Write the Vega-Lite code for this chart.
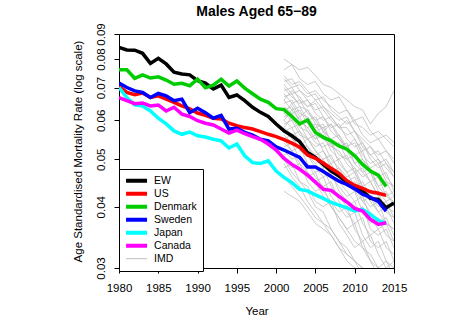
{
  "$schema": "https://vega.github.io/schema/vega-lite/v6.json",
  "width": 275,
  "height": 234,
  "autosize": {"type": "none"},
  "padding": {"left": 119, "top": 34, "right": 80, "bottom": 55},
  "background": "white",
  "config": {
    "font": "Liberation Sans",
    "view": {"stroke": "black", "strokeWidth": 1},
    "axis": {"grid": false, "domain": false, "tickColor": "black", "tickSize": 5, "labelColor": "black", "titleColor": "black", "labelFontSize": 11.5, "titleFontSize": 11.5, "titleFontWeight": "normal", "labelFlush": false, "labelOverlap": false}
  },
  "title": {"text": "Males Aged 65−89", "fontSize": 14, "fontWeight": "bold", "anchor": "middle", "baseline": "alphabetic", "offset": -7, "color": "black"},
  "datasets": {
    "rates": [
      {"series":"EW","line":"EW","year":1980,"rate":0.0845},{"series":"EW","line":"EW","year":1981,"rate":0.0835},{"series":"EW","line":"EW","year":1982,"rate":0.0834},{"series":"EW","line":"EW","year":1983,"rate":0.0822},{"series":"EW","line":"EW","year":1984,"rate":0.0784},{"series":"EW","line":"EW","year":1985,"rate":0.0803},{"series":"EW","line":"EW","year":1986,"rate":0.0782},{"series":"EW","line":"EW","year":1987,"rate":0.0752},{"series":"EW","line":"EW","year":1988,"rate":0.0746},{"series":"EW","line":"EW","year":1989,"rate":0.0743},{"series":"EW","line":"EW","year":1990,"rate":0.0723},{"series":"EW","line":"EW","year":1991,"rate":0.0715},{"series":"EW","line":"EW","year":1992,"rate":0.0695},{"series":"EW","line":"EW","year":1993,"rate":0.0708},{"series":"EW","line":"EW","year":1994,"rate":0.0668},{"series":"EW","line":"EW","year":1995,"rate":0.0676},{"series":"EW","line":"EW","year":1996,"rate":0.0658},{"series":"EW","line":"EW","year":1997,"rate":0.0638},{"series":"EW","line":"EW","year":1998,"rate":0.0623},{"series":"EW","line":"EW","year":1999,"rate":0.0611},{"series":"EW","line":"EW","year":2000,"rate":0.0590},{"series":"EW","line":"EW","year":2001,"rate":0.0571},{"series":"EW","line":"EW","year":2002,"rate":0.0558},{"series":"EW","line":"EW","year":2003,"rate":0.0543},{"series":"EW","line":"EW","year":2004,"rate":0.0516},{"series":"EW","line":"EW","year":2005,"rate":0.0504},{"series":"EW","line":"EW","year":2006,"rate":0.0488},{"series":"EW","line":"EW","year":2007,"rate":0.0473},{"series":"EW","line":"EW","year":2008,"rate":0.0462},{"series":"EW","line":"EW","year":2009,"rate":0.0449},{"series":"EW","line":"EW","year":2010,"rate":0.0440},{"series":"EW","line":"EW","year":2011,"rate":0.0431},{"series":"EW","line":"EW","year":2012,"rate":0.0416},{"series":"EW","line":"EW","year":2013,"rate":0.0414},{"series":"EW","line":"EW","year":2014,"rate":0.0398},{"series":"EW","line":"EW","year":2015,"rate":0.0407},
      {"series":"US","line":"US","year":1980,"rate":0.0704},{"series":"US","line":"US","year":1981,"rate":0.0684},{"series":"US","line":"US","year":1982,"rate":0.0677},{"series":"US","line":"US","year":1983,"rate":0.0682},{"series":"US","line":"US","year":1984,"rate":0.0668},{"series":"US","line":"US","year":1985,"rate":0.0673},{"series":"US","line":"US","year":1986,"rate":0.0663},{"series":"US","line":"US","year":1987,"rate":0.0653},{"series":"US","line":"US","year":1988,"rate":0.0642},{"series":"US","line":"US","year":1989,"rate":0.0633},{"series":"US","line":"US","year":1990,"rate":0.0621},{"series":"US","line":"US","year":1991,"rate":0.0614},{"series":"US","line":"US","year":1992,"rate":0.0606},{"series":"US","line":"US","year":1993,"rate":0.0604},{"series":"US","line":"US","year":1994,"rate":0.0592},{"series":"US","line":"US","year":1995,"rate":0.0585},{"series":"US","line":"US","year":1996,"rate":0.0580},{"series":"US","line":"US","year":1997,"rate":0.0576},{"series":"US","line":"US","year":1998,"rate":0.0569},{"series":"US","line":"US","year":1999,"rate":0.0562},{"series":"US","line":"US","year":2000,"rate":0.0556},{"series":"US","line":"US","year":2001,"rate":0.0548},{"series":"US","line":"US","year":2002,"rate":0.0539},{"series":"US","line":"US","year":2003,"rate":0.0529},{"series":"US","line":"US","year":2004,"rate":0.0510},{"series":"US","line":"US","year":2005,"rate":0.0502},{"series":"US","line":"US","year":2006,"rate":0.0491},{"series":"US","line":"US","year":2007,"rate":0.0479},{"series":"US","line":"US","year":2008,"rate":0.0468},{"series":"US","line":"US","year":2009,"rate":0.0452},{"series":"US","line":"US","year":2010,"rate":0.0442},{"series":"US","line":"US","year":2011,"rate":0.0436},{"series":"US","line":"US","year":2012,"rate":0.0429},{"series":"US","line":"US","year":2013,"rate":0.0426},{"series":"US","line":"US","year":2014,"rate":0.0422},
      {"series":"Denmark","line":"Denmark","year":1980,"rate":0.0761},{"series":"Denmark","line":"Denmark","year":1981,"rate":0.0761},{"series":"Denmark","line":"Denmark","year":1982,"rate":0.0731},{"series":"Denmark","line":"Denmark","year":1983,"rate":0.0743},{"series":"Denmark","line":"Denmark","year":1984,"rate":0.0732},{"series":"Denmark","line":"Denmark","year":1985,"rate":0.0736},{"series":"Denmark","line":"Denmark","year":1986,"rate":0.0725},{"series":"Denmark","line":"Denmark","year":1987,"rate":0.0711},{"series":"Denmark","line":"Denmark","year":1988,"rate":0.0714},{"series":"Denmark","line":"Denmark","year":1989,"rate":0.0706},{"series":"Denmark","line":"Denmark","year":1990,"rate":0.0728},{"series":"Denmark","line":"Denmark","year":1991,"rate":0.0699},{"series":"Denmark","line":"Denmark","year":1992,"rate":0.0708},{"series":"Denmark","line":"Denmark","year":1993,"rate":0.0728},{"series":"Denmark","line":"Denmark","year":1994,"rate":0.0705},{"series":"Denmark","line":"Denmark","year":1995,"rate":0.0722},{"series":"Denmark","line":"Denmark","year":1996,"rate":0.0698},{"series":"Denmark","line":"Denmark","year":1997,"rate":0.0680},{"series":"Denmark","line":"Denmark","year":1998,"rate":0.0663},{"series":"Denmark","line":"Denmark","year":1999,"rate":0.0653},{"series":"Denmark","line":"Denmark","year":2000,"rate":0.0634},{"series":"Denmark","line":"Denmark","year":2001,"rate":0.0631},{"series":"Denmark","line":"Denmark","year":2002,"rate":0.0611},{"series":"Denmark","line":"Denmark","year":2003,"rate":0.0590},{"series":"Denmark","line":"Denmark","year":2004,"rate":0.0601},{"series":"Denmark","line":"Denmark","year":2005,"rate":0.0567},{"series":"Denmark","line":"Denmark","year":2006,"rate":0.0554},{"series":"Denmark","line":"Denmark","year":2007,"rate":0.0545},{"series":"Denmark","line":"Denmark","year":2008,"rate":0.0532},{"series":"Denmark","line":"Denmark","year":2009,"rate":0.0524},{"series":"Denmark","line":"Denmark","year":2010,"rate":0.0508},{"series":"Denmark","line":"Denmark","year":2011,"rate":0.0488},{"series":"Denmark","line":"Denmark","year":2012,"rate":0.0473},{"series":"Denmark","line":"Denmark","year":2013,"rate":0.0464},{"series":"Denmark","line":"Denmark","year":2014,"rate":0.0440},
      {"series":"Sweden","line":"Sweden","year":1980,"rate":0.0715},{"series":"Sweden","line":"Sweden","year":1981,"rate":0.0700},{"series":"Sweden","line":"Sweden","year":1982,"rate":0.0689},{"series":"Sweden","line":"Sweden","year":1983,"rate":0.0684},{"series":"Sweden","line":"Sweden","year":1984,"rate":0.0668},{"series":"Sweden","line":"Sweden","year":1985,"rate":0.0681},{"series":"Sweden","line":"Sweden","year":1986,"rate":0.0673},{"series":"Sweden","line":"Sweden","year":1987,"rate":0.0658},{"series":"Sweden","line":"Sweden","year":1988,"rate":0.0663},{"series":"Sweden","line":"Sweden","year":1989,"rate":0.0622},{"series":"Sweden","line":"Sweden","year":1990,"rate":0.0635},{"series":"Sweden","line":"Sweden","year":1991,"rate":0.0622},{"series":"Sweden","line":"Sweden","year":1992,"rate":0.0606},{"series":"Sweden","line":"Sweden","year":1993,"rate":0.0614},{"series":"Sweden","line":"Sweden","year":1994,"rate":0.0576},{"series":"Sweden","line":"Sweden","year":1995,"rate":0.0578},{"series":"Sweden","line":"Sweden","year":1996,"rate":0.0567},{"series":"Sweden","line":"Sweden","year":1997,"rate":0.0560},{"series":"Sweden","line":"Sweden","year":1998,"rate":0.0549},{"series":"Sweden","line":"Sweden","year":1999,"rate":0.0545},{"series":"Sweden","line":"Sweden","year":2000,"rate":0.0530},{"series":"Sweden","line":"Sweden","year":2001,"rate":0.0522},{"series":"Sweden","line":"Sweden","year":2002,"rate":0.0513},{"series":"Sweden","line":"Sweden","year":2003,"rate":0.0504},{"series":"Sweden","line":"Sweden","year":2004,"rate":0.0482},{"series":"Sweden","line":"Sweden","year":2005,"rate":0.0482},{"series":"Sweden","line":"Sweden","year":2006,"rate":0.0472},{"series":"Sweden","line":"Sweden","year":2007,"rate":0.0461},{"series":"Sweden","line":"Sweden","year":2008,"rate":0.0451},{"series":"Sweden","line":"Sweden","year":2009,"rate":0.0444},{"series":"Sweden","line":"Sweden","year":2010,"rate":0.0435},{"series":"Sweden","line":"Sweden","year":2011,"rate":0.0424},{"series":"Sweden","line":"Sweden","year":2012,"rate":0.0418},{"series":"Sweden","line":"Sweden","year":2013,"rate":0.0410},{"series":"Sweden","line":"Sweden","year":2014,"rate":0.0392},
      {"series":"Japan","line":"Japan","year":1980,"rate":0.0700},{"series":"Japan","line":"Japan","year":1981,"rate":0.0668},{"series":"Japan","line":"Japan","year":1982,"rate":0.0645},{"series":"Japan","line":"Japan","year":1983,"rate":0.0642},{"series":"Japan","line":"Japan","year":1984,"rate":0.0627},{"series":"Japan","line":"Japan","year":1985,"rate":0.0606},{"series":"Japan","line":"Japan","year":1986,"rate":0.0590},{"series":"Japan","line":"Japan","year":1987,"rate":0.0571},{"series":"Japan","line":"Japan","year":1988,"rate":0.0562},{"series":"Japan","line":"Japan","year":1989,"rate":0.0568},{"series":"Japan","line":"Japan","year":1990,"rate":0.0558},{"series":"Japan","line":"Japan","year":1991,"rate":0.0555},{"series":"Japan","line":"Japan","year":1992,"rate":0.0549},{"series":"Japan","line":"Japan","year":1993,"rate":0.0545},{"series":"Japan","line":"Japan","year":1994,"rate":0.0527},{"series":"Japan","line":"Japan","year":1995,"rate":0.0537},{"series":"Japan","line":"Japan","year":1996,"rate":0.0508},{"series":"Japan","line":"Japan","year":1997,"rate":0.0492},{"series":"Japan","line":"Japan","year":1998,"rate":0.0490},{"series":"Japan","line":"Japan","year":1999,"rate":0.0496},{"series":"Japan","line":"Japan","year":2000,"rate":0.0473},{"series":"Japan","line":"Japan","year":2001,"rate":0.0459},{"series":"Japan","line":"Japan","year":2002,"rate":0.0448},{"series":"Japan","line":"Japan","year":2003,"rate":0.0434},{"series":"Japan","line":"Japan","year":2004,"rate":0.0431},{"series":"Japan","line":"Japan","year":2005,"rate":0.0423},{"series":"Japan","line":"Japan","year":2006,"rate":0.0416},{"series":"Japan","line":"Japan","year":2007,"rate":0.0408},{"series":"Japan","line":"Japan","year":2008,"rate":0.0403},{"series":"Japan","line":"Japan","year":2009,"rate":0.0398},{"series":"Japan","line":"Japan","year":2010,"rate":0.0392},{"series":"Japan","line":"Japan","year":2011,"rate":0.0395},{"series":"Japan","line":"Japan","year":2012,"rate":0.0386},{"series":"Japan","line":"Japan","year":2013,"rate":0.0375},{"series":"Japan","line":"Japan","year":2014,"rate":0.0370},
      {"series":"Canada","line":"Canada","year":1980,"rate":0.0668},{"series":"Canada","line":"Canada","year":1981,"rate":0.0658},{"series":"Canada","line":"Canada","year":1982,"rate":0.0649},{"series":"Canada","line":"Canada","year":1983,"rate":0.0651},{"series":"Canada","line":"Canada","year":1984,"rate":0.0642},{"series":"Canada","line":"Canada","year":1985,"rate":0.0645},{"series":"Canada","line":"Canada","year":1986,"rate":0.0627},{"series":"Canada","line":"Canada","year":1987,"rate":0.0638},{"series":"Canada","line":"Canada","year":1988,"rate":0.0618},{"series":"Canada","line":"Canada","year":1989,"rate":0.0611},{"series":"Canada","line":"Canada","year":1990,"rate":0.0599},{"series":"Canada","line":"Canada","year":1991,"rate":0.0592},{"series":"Canada","line":"Canada","year":1992,"rate":0.0587},{"series":"Canada","line":"Canada","year":1993,"rate":0.0576},{"series":"Canada","line":"Canada","year":1994,"rate":0.0565},{"series":"Canada","line":"Canada","year":1995,"rate":0.0573},{"series":"Canada","line":"Canada","year":1996,"rate":0.0564},{"series":"Canada","line":"Canada","year":1997,"rate":0.0556},{"series":"Canada","line":"Canada","year":1998,"rate":0.0549},{"series":"Canada","line":"Canada","year":1999,"rate":0.0537},{"series":"Canada","line":"Canada","year":2000,"rate":0.0522},{"series":"Canada","line":"Canada","year":2001,"rate":0.0502},{"series":"Canada","line":"Canada","year":2002,"rate":0.0488},{"series":"Canada","line":"Canada","year":2003,"rate":0.0477},{"series":"Canada","line":"Canada","year":2004,"rate":0.0464},{"series":"Canada","line":"Canada","year":2005,"rate":0.0449},{"series":"Canada","line":"Canada","year":2006,"rate":0.0434},{"series":"Canada","line":"Canada","year":2007,"rate":0.0432},{"series":"Canada","line":"Canada","year":2008,"rate":0.0420},{"series":"Canada","line":"Canada","year":2009,"rate":0.0409},{"series":"Canada","line":"Canada","year":2010,"rate":0.0397},{"series":"Canada","line":"Canada","year":2011,"rate":0.0392},{"series":"Canada","line":"Canada","year":2012,"rate":0.0377},{"series":"Canada","line":"Canada","year":2013,"rate":0.0368},{"series":"Canada","line":"Canada","year":2014,"rate":0.0371}
    ],
    "imd": [
      {"line":"i1","year":2001,"rate":0.080},{"line":"i1","year":2002,"rate":0.078},{"line":"i1","year":2003,"rate":0.076},{"line":"i1","year":2004,"rate":0.077},{"line":"i1","year":2005,"rate":0.074},{"line":"i1","year":2006,"rate":0.071},{"line":"i1","year":2007,"rate":0.070},{"line":"i1","year":2008,"rate":0.068},{"line":"i1","year":2009,"rate":0.066},{"line":"i1","year":2010,"rate":0.064},{"line":"i1","year":2011,"rate":0.063},{"line":"i1","year":2012,"rate":0.059},{"line":"i1","year":2013,"rate":0.062},{"line":"i1","year":2014,"rate":0.064},{"line":"i1","year":2015,"rate":0.069},
      {"line":"i2","year":2001,"rate":0.076},{"line":"i2","year":2002,"rate":0.078},{"line":"i2","year":2003,"rate":0.073},{"line":"i2","year":2004,"rate":0.071},{"line":"i2","year":2005,"rate":0.072},{"line":"i2","year":2006,"rate":0.068},{"line":"i2","year":2007,"rate":0.066},{"line":"i2","year":2008,"rate":0.067},{"line":"i2","year":2009,"rate":0.063},{"line":"i2","year":2010,"rate":0.060},{"line":"i2","year":2011,"rate":0.061},{"line":"i2","year":2012,"rate":0.057},{"line":"i2","year":2013,"rate":0.055},{"line":"i2","year":2014,"rate":0.056},{"line":"i2","year":2015,"rate":0.054},
      {"line":"i3","year":2001,"rate":0.074},{"line":"i3","year":2002,"rate":0.071},{"line":"i3","year":2003,"rate":0.072},{"line":"i3","year":2004,"rate":0.069},{"line":"i3","year":2005,"rate":0.066},{"line":"i3","year":2006,"rate":0.067},{"line":"i3","year":2007,"rate":0.063},{"line":"i3","year":2008,"rate":0.061},{"line":"i3","year":2009,"rate":0.059},{"line":"i3","year":2010,"rate":0.060},{"line":"i3","year":2011,"rate":0.056},{"line":"i3","year":2012,"rate":0.054},{"line":"i3","year":2013,"rate":0.055},{"line":"i3","year":2014,"rate":0.052},{"line":"i3","year":2015,"rate":0.050},
      {"line":"i4","year":2001,"rate":0.072},{"line":"i4","year":2002,"rate":0.073},{"line":"i4","year":2003,"rate":0.069},{"line":"i4","year":2004,"rate":0.067},{"line":"i4","year":2005,"rate":0.068},{"line":"i4","year":2006,"rate":0.064},{"line":"i4","year":2007,"rate":0.062},{"line":"i4","year":2008,"rate":0.060},{"line":"i4","year":2009,"rate":0.061},{"line":"i4","year":2010,"rate":0.057},{"line":"i4","year":2011,"rate":0.055},{"line":"i4","year":2012,"rate":0.053},{"line":"i4","year":2013,"rate":0.051},{"line":"i4","year":2014,"rate":0.052},{"line":"i4","year":2015,"rate":0.049},
      {"line":"i5","year":2001,"rate":0.071},{"line":"i5","year":2002,"rate":0.068},{"line":"i5","year":2003,"rate":0.069},{"line":"i5","year":2004,"rate":0.066},{"line":"i5","year":2005,"rate":0.063},{"line":"i5","year":2006,"rate":0.064},{"line":"i5","year":2007,"rate":0.061},{"line":"i5","year":2008,"rate":0.058},{"line":"i5","year":2009,"rate":0.056},{"line":"i5","year":2010,"rate":0.057},{"line":"i5","year":2011,"rate":0.054},{"line":"i5","year":2012,"rate":0.051},{"line":"i5","year":2013,"rate":0.052},{"line":"i5","year":2014,"rate":0.049},{"line":"i5","year":2015,"rate":0.047},
      {"line":"i6","year":2001,"rate":0.069},{"line":"i6","year":2002,"rate":0.070},{"line":"i6","year":2003,"rate":0.066},{"line":"i6","year":2004,"rate":0.064},{"line":"i6","year":2005,"rate":0.065},{"line":"i6","year":2006,"rate":0.061},{"line":"i6","year":2007,"rate":0.058},{"line":"i6","year":2008,"rate":0.059},{"line":"i6","year":2009,"rate":0.055},{"line":"i6","year":2010,"rate":0.053},{"line":"i6","year":2011,"rate":0.054},{"line":"i6","year":2012,"rate":0.050},{"line":"i6","year":2013,"rate":0.048},{"line":"i6","year":2014,"rate":0.049},{"line":"i6","year":2015,"rate":0.046},
      {"line":"i7","year":2001,"rate":0.068},{"line":"i7","year":2002,"rate":0.065},{"line":"i7","year":2003,"rate":0.066},{"line":"i7","year":2004,"rate":0.062},{"line":"i7","year":2005,"rate":0.060},{"line":"i7","year":2006,"rate":0.061},{"line":"i7","year":2007,"rate":0.057},{"line":"i7","year":2008,"rate":0.055},{"line":"i7","year":2009,"rate":0.053},{"line":"i7","year":2010,"rate":0.054},{"line":"i7","year":2011,"rate":0.050},{"line":"i7","year":2012,"rate":0.048},{"line":"i7","year":2013,"rate":0.049},{"line":"i7","year":2014,"rate":0.045},{"line":"i7","year":2015,"rate":0.044},
      {"line":"i8","year":2001,"rate":0.067},{"line":"i8","year":2002,"rate":0.068},{"line":"i8","year":2003,"rate":0.064},{"line":"i8","year":2004,"rate":0.063},{"line":"i8","year":2005,"rate":0.059},{"line":"i8","year":2006,"rate":0.058},{"line":"i8","year":2007,"rate":0.059},{"line":"i8","year":2008,"rate":0.055},{"line":"i8","year":2009,"rate":0.052},{"line":"i8","year":2010,"rate":0.051},{"line":"i8","year":2011,"rate":0.052},{"line":"i8","year":2012,"rate":0.047},{"line":"i8","year":2013,"rate":0.046},{"line":"i8","year":2014,"rate":0.047},{"line":"i8","year":2015,"rate":0.043},
      {"line":"i9","year":2001,"rate":0.066},{"line":"i9","year":2002,"rate":0.063},{"line":"i9","year":2003,"rate":0.064},{"line":"i9","year":2004,"rate":0.060},{"line":"i9","year":2005,"rate":0.061},{"line":"i9","year":2006,"rate":0.057},{"line":"i9","year":2007,"rate":0.055},{"line":"i9","year":2008,"rate":0.056},{"line":"i9","year":2009,"rate":0.052},{"line":"i9","year":2010,"rate":0.049},{"line":"i9","year":2011,"rate":0.050},{"line":"i9","year":2012,"rate":0.047},{"line":"i9","year":2013,"rate":0.044},{"line":"i9","year":2014,"rate":0.045},{"line":"i9","year":2015,"rate":0.042},
      {"line":"i10","year":2001,"rate":0.065},{"line":"i10","year":2002,"rate":0.066},{"line":"i10","year":2003,"rate":0.062},{"line":"i10","year":2004,"rate":0.061},{"line":"i10","year":2005,"rate":0.058},{"line":"i10","year":2006,"rate":0.059},{"line":"i10","year":2007,"rate":0.054},{"line":"i10","year":2008,"rate":0.053},{"line":"i10","year":2009,"rate":0.054},{"line":"i10","year":2010,"rate":0.049},{"line":"i10","year":2011,"rate":0.047},{"line":"i10","year":2012,"rate":0.048},{"line":"i10","year":2013,"rate":0.044},{"line":"i10","year":2014,"rate":0.042},{"line":"i10","year":2015,"rate":0.043},
      {"line":"i11","year":2001,"rate":0.064},{"line":"i11","year":2002,"rate":0.062},{"line":"i11","year":2003,"rate":0.063},{"line":"i11","year":2004,"rate":0.059},{"line":"i11","year":2005,"rate":0.057},{"line":"i11","year":2006,"rate":0.058},{"line":"i11","year":2007,"rate":0.054},{"line":"i11","year":2008,"rate":0.051},{"line":"i11","year":2009,"rate":0.050},{"line":"i11","year":2010,"rate":0.051},{"line":"i11","year":2011,"rate":0.047},{"line":"i11","year":2012,"rate":0.045},{"line":"i11","year":2013,"rate":0.046},{"line":"i11","year":2014,"rate":0.042},{"line":"i11","year":2015,"rate":0.041},
      {"line":"i12","year":2001,"rate":0.063},{"line":"i12","year":2002,"rate":0.064},{"line":"i12","year":2003,"rate":0.060},{"line":"i12","year":2004,"rate":0.058},{"line":"i12","year":2005,"rate":0.059},{"line":"i12","year":2006,"rate":0.055},{"line":"i12","year":2007,"rate":0.053},{"line":"i12","year":2008,"rate":0.054},{"line":"i12","year":2009,"rate":0.050},{"line":"i12","year":2010,"rate":0.048},{"line":"i12","year":2011,"rate":0.046},{"line":"i12","year":2012,"rate":0.047},{"line":"i12","year":2013,"rate":0.043},{"line":"i12","year":2014,"rate":0.041},{"line":"i12","year":2015,"rate":0.042},
      {"line":"i13","year":2001,"rate":0.062},{"line":"i13","year":2002,"rate":0.060},{"line":"i13","year":2003,"rate":0.061},{"line":"i13","year":2004,"rate":0.057},{"line":"i13","year":2005,"rate":0.055},{"line":"i13","year":2006,"rate":0.056},{"line":"i13","year":2007,"rate":0.052},{"line":"i13","year":2008,"rate":0.050},{"line":"i13","year":2009,"rate":0.051},{"line":"i13","year":2010,"rate":0.047},{"line":"i13","year":2011,"rate":0.044},{"line":"i13","year":2012,"rate":0.045},{"line":"i13","year":2013,"rate":0.042},{"line":"i13","year":2014,"rate":0.040},{"line":"i13","year":2015,"rate":0.039},
      {"line":"i14","year":2001,"rate":0.061},{"line":"i14","year":2002,"rate":0.062},{"line":"i14","year":2003,"rate":0.058},{"line":"i14","year":2004,"rate":0.057},{"line":"i14","year":2005,"rate":0.054},{"line":"i14","year":2006,"rate":0.053},{"line":"i14","year":2007,"rate":0.054},{"line":"i14","year":2008,"rate":0.049},{"line":"i14","year":2009,"rate":0.047},{"line":"i14","year":2010,"rate":0.048},{"line":"i14","year":2011,"rate":0.044},{"line":"i14","year":2012,"rate":0.042},{"line":"i14","year":2013,"rate":0.043},{"line":"i14","year":2014,"rate":0.039},{"line":"i14","year":2015,"rate":0.038},
      {"line":"i15","year":2001,"rate":0.060},{"line":"i15","year":2002,"rate":0.058},{"line":"i15","year":2003,"rate":0.059},{"line":"i15","year":2004,"rate":0.055},{"line":"i15","year":2005,"rate":0.053},{"line":"i15","year":2006,"rate":0.054},{"line":"i15","year":2007,"rate":0.050},{"line":"i15","year":2008,"rate":0.048},{"line":"i15","year":2009,"rate":0.046},{"line":"i15","year":2010,"rate":0.047},{"line":"i15","year":2011,"rate":0.043},{"line":"i15","year":2012,"rate":0.041},{"line":"i15","year":2013,"rate":0.039},{"line":"i15","year":2014,"rate":0.040},{"line":"i15","year":2015,"rate":0.037},
      {"line":"i16","year":2001,"rate":0.059},{"line":"i16","year":2002,"rate":0.060},{"line":"i16","year":2003,"rate":0.056},{"line":"i16","year":2004,"rate":0.055},{"line":"i16","year":2005,"rate":0.052},{"line":"i16","year":2006,"rate":0.050},{"line":"i16","year":2007,"rate":0.051},{"line":"i16","year":2008,"rate":0.047},{"line":"i16","year":2009,"rate":0.045},{"line":"i16","year":2010,"rate":0.046},{"line":"i16","year":2011,"rate":0.042},{"line":"i16","year":2012,"rate":0.040},{"line":"i16","year":2013,"rate":0.041},{"line":"i16","year":2014,"rate":0.037},{"line":"i16","year":2015,"rate":0.036},
      {"line":"i17","year":2001,"rate":0.058},{"line":"i17","year":2002,"rate":0.056},{"line":"i17","year":2003,"rate":0.057},{"line":"i17","year":2004,"rate":0.053},{"line":"i17","year":2005,"rate":0.051},{"line":"i17","year":2006,"rate":0.052},{"line":"i17","year":2007,"rate":0.048},{"line":"i17","year":2008,"rate":0.046},{"line":"i17","year":2009,"rate":0.044},{"line":"i17","year":2010,"rate":0.045},{"line":"i17","year":2011,"rate":0.041},{"line":"i17","year":2012,"rate":0.039},{"line":"i17","year":2013,"rate":0.037},{"line":"i17","year":2014,"rate":0.038},{"line":"i17","year":2015,"rate":0.035},
      {"line":"i18","year":2001,"rate":0.057},{"line":"i18","year":2002,"rate":0.058},{"line":"i18","year":2003,"rate":0.054},{"line":"i18","year":2004,"rate":0.053},{"line":"i18","year":2005,"rate":0.050},{"line":"i18","year":2006,"rate":0.048},{"line":"i18","year":2007,"rate":0.049},{"line":"i18","year":2008,"rate":0.045},{"line":"i18","year":2009,"rate":0.043},{"line":"i18","year":2010,"rate":0.041},{"line":"i18","year":2011,"rate":0.042},{"line":"i18","year":2012,"rate":0.038},{"line":"i18","year":2013,"rate":0.036},{"line":"i18","year":2014,"rate":0.037},{"line":"i18","year":2015,"rate":0.034},
      {"line":"i19","year":2001,"rate":0.056},{"line":"i19","year":2002,"rate":0.054},{"line":"i19","year":2003,"rate":0.055},{"line":"i19","year":2004,"rate":0.051},{"line":"i19","year":2005,"rate":0.049},{"line":"i19","year":2006,"rate":0.050},{"line":"i19","year":2007,"rate":0.046},{"line":"i19","year":2008,"rate":0.044},{"line":"i19","year":2009,"rate":0.042},{"line":"i19","year":2010,"rate":0.043},{"line":"i19","year":2011,"rate":0.039},{"line":"i19","year":2012,"rate":0.037},{"line":"i19","year":2013,"rate":0.038},{"line":"i19","year":2014,"rate":0.035},{"line":"i19","year":2015,"rate":0.034},
      {"line":"i20","year":2001,"rate":0.055},{"line":"i20","year":2002,"rate":0.056},{"line":"i20","year":2003,"rate":0.052},{"line":"i20","year":2004,"rate":0.051},{"line":"i20","year":2005,"rate":0.048},{"line":"i20","year":2006,"rate":0.046},{"line":"i20","year":2007,"rate":0.047},{"line":"i20","year":2008,"rate":0.043},{"line":"i20","year":2009,"rate":0.041},{"line":"i20","year":2010,"rate":0.039},{"line":"i20","year":2011,"rate":0.040},{"line":"i20","year":2012,"rate":0.036},{"line":"i20","year":2013,"rate":0.035},{"line":"i20","year":2014,"rate":0.036},{"line":"i20","year":2015,"rate":0.033},
      {"line":"i21","year":2001,"rate":0.054},{"line":"i21","year":2002,"rate":0.052},{"line":"i21","year":2003,"rate":0.053},{"line":"i21","year":2004,"rate":0.049},{"line":"i21","year":2005,"rate":0.047},{"line":"i21","year":2006,"rate":0.048},{"line":"i21","year":2007,"rate":0.044},{"line":"i21","year":2008,"rate":0.042},{"line":"i21","year":2009,"rate":0.040},{"line":"i21","year":2010,"rate":0.041},{"line":"i21","year":2011,"rate":0.037},{"line":"i21","year":2012,"rate":0.035},{"line":"i21","year":2013,"rate":0.036},{"line":"i21","year":2014,"rate":0.033},{"line":"i21","year":2015,"rate":0.032},
      {"line":"i22","year":2001,"rate":0.053},{"line":"i22","year":2002,"rate":0.054},{"line":"i22","year":2003,"rate":0.050},{"line":"i22","year":2004,"rate":0.049},{"line":"i22","year":2005,"rate":0.046},{"line":"i22","year":2006,"rate":0.044},{"line":"i22","year":2007,"rate":0.045},{"line":"i22","year":2008,"rate":0.041},{"line":"i22","year":2009,"rate":0.039},{"line":"i22","year":2010,"rate":0.037},{"line":"i22","year":2011,"rate":0.038},{"line":"i22","year":2012,"rate":0.034},{"line":"i22","year":2013,"rate":0.033},{"line":"i22","year":2014,"rate":0.034},{"line":"i22","year":2015,"rate":0.031},
      {"line":"i23","year":2001,"rate":0.052},{"line":"i23","year":2002,"rate":0.050},{"line":"i23","year":2003,"rate":0.051},{"line":"i23","year":2004,"rate":0.047},{"line":"i23","year":2005,"rate":0.045},{"line":"i23","year":2006,"rate":0.046},{"line":"i23","year":2007,"rate":0.042},{"line":"i23","year":2008,"rate":0.040},{"line":"i23","year":2009,"rate":0.038},{"line":"i23","year":2010,"rate":0.039},{"line":"i23","year":2011,"rate":0.035},{"line":"i23","year":2012,"rate":0.033},{"line":"i23","year":2013,"rate":0.034},{"line":"i23","year":2014,"rate":0.031},{"line":"i23","year":2015,"rate":0.030},
      {"line":"i24","year":2001,"rate":0.051},{"line":"i24","year":2002,"rate":0.052},{"line":"i24","year":2003,"rate":0.048},{"line":"i24","year":2004,"rate":0.046},{"line":"i24","year":2005,"rate":0.047},{"line":"i24","year":2006,"rate":0.043},{"line":"i24","year":2007,"rate":0.041},{"line":"i24","year":2008,"rate":0.039},{"line":"i24","year":2009,"rate":0.040},{"line":"i24","year":2010,"rate":0.036},{"line":"i24","year":2011,"rate":0.034},{"line":"i24","year":2012,"rate":0.035},{"line":"i24","year":2013,"rate":0.032},{"line":"i24","year":2014,"rate":0.030},{"line":"i24","year":2015,"rate":0.031},
      {"line":"i25","year":2001,"rate":0.050},{"line":"i25","year":2002,"rate":0.048},{"line":"i25","year":2003,"rate":0.049},{"line":"i25","year":2004,"rate":0.045},{"line":"i25","year":2005,"rate":0.043},{"line":"i25","year":2006,"rate":0.044},{"line":"i25","year":2007,"rate":0.040},{"line":"i25","year":2008,"rate":0.038},{"line":"i25","year":2009,"rate":0.036},{"line":"i25","year":2010,"rate":0.037},{"line":"i25","year":2011,"rate":0.033},{"line":"i25","year":2012,"rate":0.032},{"line":"i25","year":2013,"rate":0.030},{"line":"i25","year":2014,"rate":0.031},{"line":"i25","year":2015,"rate":0.029},
      {"line":"i26","year":2001,"rate":0.048},{"line":"i26","year":2002,"rate":0.049},{"line":"i26","year":2003,"rate":0.045},{"line":"i26","year":2004,"rate":0.044},{"line":"i26","year":2005,"rate":0.041},{"line":"i26","year":2006,"rate":0.040},{"line":"i26","year":2007,"rate":0.041},{"line":"i26","year":2008,"rate":0.037},{"line":"i26","year":2009,"rate":0.035},{"line":"i26","year":2010,"rate":0.033},{"line":"i26","year":2011,"rate":0.034},{"line":"i26","year":2012,"rate":0.031},{"line":"i26","year":2013,"rate":0.029},{"line":"i26","year":2014,"rate":0.030},{"line":"i26","year":2015,"rate":0.028},
      {"line":"i27","year":2001,"rate":0.043},{"line":"i27","year":2002,"rate":0.042},{"line":"i27","year":2003,"rate":0.041},{"line":"i27","year":2004,"rate":0.039},{"line":"i27","year":2005,"rate":0.037},{"line":"i27","year":2006,"rate":0.036},{"line":"i27","year":2007,"rate":0.035},{"line":"i27","year":2008,"rate":0.033},{"line":"i27","year":2009,"rate":0.032},{"line":"i27","year":2010,"rate":0.031},{"line":"i27","year":2011,"rate":0.030},{"line":"i27","year":2012,"rate":0.029},{"line":"i27","year":2013,"rate":0.028},{"line":"i27","year":2014,"rate":0.028},{"line":"i27","year":2015,"rate":0.027},
      {"line":"i28","year":2001,"rate":0.062},{"line":"i28","year":2002,"rate":0.065},{"line":"i28","year":2003,"rate":0.061},{"line":"i28","year":2004,"rate":0.063},{"line":"i28","year":2005,"rate":0.060},{"line":"i28","year":2006,"rate":0.057},{"line":"i28","year":2007,"rate":0.059},{"line":"i28","year":2008,"rate":0.056},{"line":"i28","year":2009,"rate":0.053},{"line":"i28","year":2010,"rate":0.055},{"line":"i28","year":2011,"rate":0.051},{"line":"i28","year":2012,"rate":0.049},{"line":"i28","year":2013,"rate":0.050},{"line":"i28","year":2014,"rate":0.046},{"line":"i28","year":2015,"rate":0.044},
      {"line":"i29","year":2001,"rate":0.070},{"line":"i29","year":2002,"rate":0.067},{"line":"i29","year":2003,"rate":0.065},{"line":"i29","year":2004,"rate":0.066},{"line":"i29","year":2005,"rate":0.062},{"line":"i29","year":2006,"rate":0.060},{"line":"i29","year":2007,"rate":0.061},{"line":"i29","year":2008,"rate":0.058},{"line":"i29","year":2009,"rate":0.058},{"line":"i29","year":2010,"rate":0.055},{"line":"i29","year":2011,"rate":0.052},{"line":"i29","year":2012,"rate":0.053},{"line":"i29","year":2013,"rate":0.050},{"line":"i29","year":2014,"rate":0.048},{"line":"i29","year":2015,"rate":0.046},
      {"line":"i30","year":2001,"rate":0.058},{"line":"i30","year":2002,"rate":0.061},{"line":"i30","year":2003,"rate":0.057},{"line":"i30","year":2004,"rate":0.055},{"line":"i30","year":2005,"rate":0.056},{"line":"i30","year":2006,"rate":0.052},{"line":"i30","year":2007,"rate":0.049},{"line":"i30","year":2008,"rate":0.050},{"line":"i30","year":2009,"rate":0.047},{"line":"i30","year":2010,"rate":0.044},{"line":"i30","year":2011,"rate":0.045},{"line":"i30","year":2012,"rate":0.042},{"line":"i30","year":2013,"rate":0.040},{"line":"i30","year":2014,"rate":0.041},{"line":"i30","year":2015,"rate":0.038},
      {"line":"i31","year":2001,"rate":0.066},{"line":"i31","year":2002,"rate":0.069},{"line":"i31","year":2003,"rate":0.067},{"line":"i31","year":2004,"rate":0.064},{"line":"i31","year":2005,"rate":0.066},{"line":"i31","year":2006,"rate":0.063},{"line":"i31","year":2007,"rate":0.060},{"line":"i31","year":2008,"rate":0.058},{"line":"i31","year":2009,"rate":0.060},{"line":"i31","year":2010,"rate":0.057},{"line":"i31","year":2011,"rate":0.053},{"line":"i31","year":2012,"rate":0.051},{"line":"i31","year":2013,"rate":0.049},{"line":"i31","year":2014,"rate":0.050},{"line":"i31","year":2015,"rate":0.047},
      {"line":"i32","year":2001,"rate":0.057},{"line":"i32","year":2002,"rate":0.055},{"line":"i32","year":2003,"rate":0.053},{"line":"i32","year":2004,"rate":0.055},{"line":"i32","year":2005,"rate":0.052},{"line":"i32","year":2006,"rate":0.049},{"line":"i32","year":2007,"rate":0.047},{"line":"i32","year":2008,"rate":0.048},{"line":"i32","year":2009,"rate":0.045},{"line":"i32","year":2010,"rate":0.043},{"line":"i32","year":2011,"rate":0.041},{"line":"i32","year":2012,"rate":0.042},{"line":"i32","year":2013,"rate":0.039},{"line":"i32","year":2014,"rate":0.037},{"line":"i32","year":2015,"rate":0.036},
      {"line":"i33","year":2001,"rate":0.073},{"line":"i33","year":2002,"rate":0.070},{"line":"i33","year":2003,"rate":0.071},{"line":"i33","year":2004,"rate":0.068},{"line":"i33","year":2005,"rate":0.069},{"line":"i33","year":2006,"rate":0.066},{"line":"i33","year":2007,"rate":0.064},{"line":"i33","year":2008,"rate":0.062},{"line":"i33","year":2009,"rate":0.063},{"line":"i33","year":2010,"rate":0.059},{"line":"i33","year":2011,"rate":0.058},{"line":"i33","year":2012,"rate":0.056},{"line":"i33","year":2013,"rate":0.057},{"line":"i33","year":2014,"rate":0.055},{"line":"i33","year":2015,"rate":0.053},
      {"line":"i34","year":2001,"rate":0.060},{"line":"i34","year":2002,"rate":0.063},{"line":"i34","year":2003,"rate":0.060},{"line":"i34","year":2004,"rate":0.058},{"line":"i34","year":2005,"rate":0.055},{"line":"i34","year":2006,"rate":0.057},{"line":"i34","year":2007,"rate":0.053},{"line":"i34","year":2008,"rate":0.052},{"line":"i34","year":2009,"rate":0.049},{"line":"i34","year":2010,"rate":0.047},{"line":"i34","year":2011,"rate":0.048},{"line":"i34","year":2012,"rate":0.045},{"line":"i34","year":2013,"rate":0.042},{"line":"i34","year":2014,"rate":0.043},{"line":"i34","year":2015,"rate":0.040},
      {"line":"i35","year":2001,"rate":0.046},{"line":"i35","year":2002,"rate":0.044},{"line":"i35","year":2003,"rate":0.042},{"line":"i35","year":2004,"rate":0.040},{"line":"i35","year":2005,"rate":0.038},{"line":"i35","year":2006,"rate":0.037},{"line":"i35","year":2007,"rate":0.035},{"line":"i35","year":2008,"rate":0.033},{"line":"i35","year":2009,"rate":0.031},{"line":"i35","year":2010,"rate":0.030},{"line":"i35","year":2011,"rate":0.029},{"line":"i35","year":2012,"rate":0.028},{"line":"i35","year":2013,"rate":0.027},{"line":"i35","year":2014,"rate":0.027},{"line":"i35","year":2015,"rate":0.026},
      {"line":"i36","year":2001,"rate":0.050},{"line":"i36","year":2002,"rate":0.047},{"line":"i36","year":2003,"rate":0.045},{"line":"i36","year":2004,"rate":0.043},{"line":"i36","year":2005,"rate":0.040},{"line":"i36","year":2006,"rate":0.039},{"line":"i36","year":2007,"rate":0.036},{"line":"i36","year":2008,"rate":0.034},{"line":"i36","year":2009,"rate":0.033},{"line":"i36","year":2010,"rate":0.031},{"line":"i36","year":2011,"rate":0.030},{"line":"i36","year":2012,"rate":0.029},{"line":"i36","year":2013,"rate":0.028},{"line":"i36","year":2014,"rate":0.027},{"line":"i36","year":2015,"rate":0.027},
      {"line":"i37","year":2001,"rate":0.055},{"line":"i37","year":2002,"rate":0.052},{"line":"i37","year":2003,"rate":0.049},{"line":"i37","year":2004,"rate":0.047},{"line":"i37","year":2005,"rate":0.045},{"line":"i37","year":2006,"rate":0.042},{"line":"i37","year":2007,"rate":0.040},{"line":"i37","year":2008,"rate":0.038},{"line":"i37","year":2009,"rate":0.036},{"line":"i37","year":2010,"rate":0.034},{"line":"i37","year":2011,"rate":0.033},{"line":"i37","year":2012,"rate":0.031},{"line":"i37","year":2013,"rate":0.030},{"line":"i37","year":2014,"rate":0.029},{"line":"i37","year":2015,"rate":0.028},
      {"line":"i38","year":2001,"rate":0.049},{"line":"i38","year":2002,"rate":0.046},{"line":"i38","year":2003,"rate":0.044},{"line":"i38","year":2004,"rate":0.041},{"line":"i38","year":2005,"rate":0.039},{"line":"i38","year":2006,"rate":0.037},{"line":"i38","year":2007,"rate":0.036},{"line":"i38","year":2008,"rate":0.034},{"line":"i38","year":2009,"rate":0.032},{"line":"i38","year":2010,"rate":0.031},{"line":"i38","year":2011,"rate":0.029},{"line":"i38","year":2012,"rate":0.028},{"line":"i38","year":2013,"rate":0.028},{"line":"i38","year":2014,"rate":0.027},{"line":"i38","year":2015,"rate":0.026}
    ]
  },
  "encoding": {
    "x": {"field": "year", "type": "quantitative", "scale": {"domain": [1980, 2015], "nice": false, "zero": false},
      "axis": {"values": [1980, 1985, 1990, 1995, 2000, 2005, 2010, 2015], "format": "d", "title": "Year", "labelPadding": 9, "titlePadding": 12}},
    "y": {"field": "rate", "type": "quantitative", "scale": {"type": "log", "domain": [0.03, 0.09], "nice": false},
      "axis": {"values": [0.03, 0.04, 0.05, 0.06, 0.07, 0.08, 0.09], "format": ".2f", "labelAngle": -90, "labelAlign": "center", "labelBaseline": "bottom", "labelPadding": 8, "title": "Age Standardised Mortality Rate (log scale)", "titlePadding": 12}},
    "color": {"field": "series", "type": "nominal",
      "scale": {"domain": ["EW", "US", "Denmark", "Sweden", "Japan", "Canada", "IMD"], "range": ["#000000", "#ff0000", "#00cd00", "#0000ff", "#00ffff", "#ff00ff", "#bebebe"]},
      "legend": {"orient": "none", "legendX": 0, "legendY": 135, "title": null, "direction": "vertical", "symbolType": "stroke", "symbolSize": 441, "symbolStrokeWidth": 4, "symbolOffset": 6.8, "labelFontSize": 10.5, "labelColor": "black", "labelOffset": 12.3, "padding": 5.5, "rowPadding": 0, "clipHeight": 12.4, "strokeColor": "black", "fillColor": "white", "cornerRadius": 0,
        "encode": {"symbols": {"update": {"strokeWidth": {"signal": "datum.value === 'IMD' ? 1 : 4"}}}}}}
  },
  "layer": [
    {"data": {"name": "imd"}, "transform": [{"calculate": "'IMD'", "as": "series"}], "mark": {"type": "line", "strokeWidth": 0.8, "clip": true, "color": "#c8c8c8"}, "encoding": {"detail": {"field": "line"}}},
    {"data": {"name": "rates"}, "mark": {"type": "line", "strokeWidth": 3.5, "clip": true}}
  ]
}
